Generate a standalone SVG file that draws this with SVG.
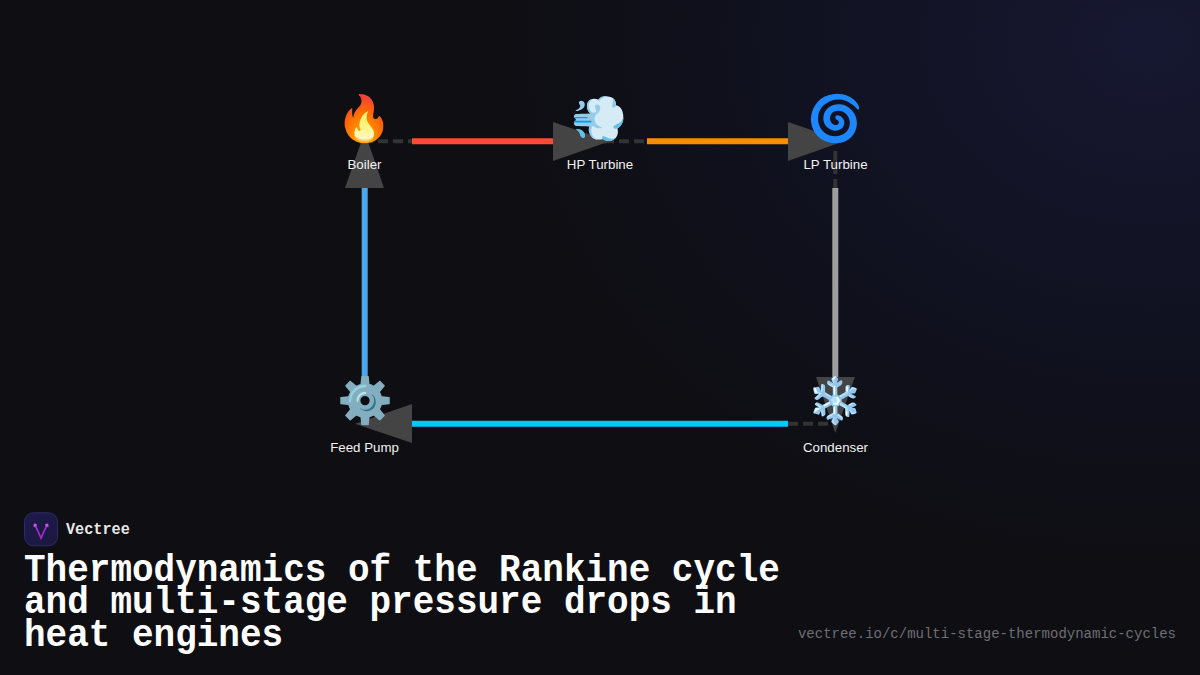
<svg xmlns="http://www.w3.org/2000/svg" width="1200" height="675" viewBox="0 0 1200 675">
<defs>
<radialGradient id="glow" gradientUnits="userSpaceOnUse" cx="0" cy="0" r="1" gradientTransform="translate(1150 40) scale(640 520)">
<stop offset="0" stop-color="#161831"/><stop offset="0.5" stop-color="#111222"/><stop offset="1" stop-color="#0e0e13"/>
</radialGradient>
<linearGradient id="logo" x1="0" y1="0" x2="1" y2="1"><stop offset="0" stop-color="#1e1b4b"/><stop offset="1" stop-color="#1a1740"/></linearGradient>
</defs>
<style>
.dash{fill:none;stroke:#333;stroke-width:4;stroke-dasharray:10 5}
.solid{fill:none;stroke:#333;stroke-width:4}
.edge{fill:none;stroke-width:6}
.head{fill:#444}
.emoji{font-family:"Noto Color Emoji","Noto Sans",sans-serif;font-size:45px;text-anchor:middle}
.label{font-family:"Liberation Sans",Arial,sans-serif;font-size:13.300px;fill:#f2f2f2;text-anchor:middle}
.mono{font-family:"Liberation Mono","Courier New",monospace}
.title{font-size:36px;font-weight:700;fill:#fff}
</style>
<rect width="1200" height="675" fill="#0e0e13"/>
<rect width="1200" height="675" fill="url(#glow)"/>
<g id="connectors">
<path class="dash" d="M363 141.300H412"/>
<path class="dash" d="M589 141.300H647"/>
<path class="solid" d="M835.300 151V174M835.300 179V188"/>
<path class="dash" d="M788 423.800H835"/>
<path class="edge" stroke="#ff4b33" d="M412 141.300H553"/>
<path class="edge" stroke="#ff8c00" d="M647 141.300H788"/>
<path class="edge" stroke="#9e9e9e" d="M835.300 188V377"/>
<path class="edge" stroke="#00c8ff" d="M788 423.800H412"/>
<path class="edge" stroke="#4aa8ec" d="M364.700 377V188"/>
<polygon class="head" points="553,122 553,161 610,141.300"/>
<polygon class="head" points="788,122 788,161 844,141.300"/>
<polygon class="head" points="816,377 855,377 835.300,433"/>
<polygon class="head" points="412,404 412,443 355,423.800"/>
<polygon class="head" points="345,188 384,188 364.700,132"/>
</g>
<g id="boiler"><text class="emoji" x="364.500" y="133.500">🔥</text><text class="label" x="364.500" y="169">Boiler</text></g>
<g id="hp-turbine"><text class="emoji" x="599.500" y="133.500">💨</text><text class="label" x="600" y="169">HP Turbine</text></g>
<g id="lp-turbine"><text class="emoji" x="835" y="133.500">🌀</text><text class="label" x="835.500" y="169">LP Turbine</text></g>
<g id="condenser"><text class="emoji" x="835" y="416">❄️</text><text class="label" x="835.500" y="452">Condenser</text></g>
<g id="feed-pump"><text class="emoji" x="365" y="416">⚙️</text><text class="label" x="364.500" y="452">Feed Pump</text></g>
<g id="brand">
<rect x="24.500" y="512.800" width="33" height="33" rx="9" fill="url(#logo)" stroke="#2e2a6b"/>
<path d="M36 527L41 538L46 527M36 527L33.500 526M36 527L36 524M46 527L48.500 526M46 527L46 524" fill="none" stroke="#9a30c0" stroke-width="1.800"/>
<circle cx="35" cy="525" r="1.500" fill="#c060e0"/><circle cx="47" cy="525" r="1.500" fill="#c060e0"/>
<text class="mono" font-size="15.200" font-weight="700" fill="#e8e8e8" transform="translate(66 534) scale(1 1.100)">Vectree</text>
</g>
<g id="title" class="mono">
<text class="title mono" transform="translate(24 581) scale(1 1.080)">Thermodynamics of the Rankine cycle</text>
<text class="title mono" transform="translate(24 613) scale(1 1.080)">and multi-stage pressure drops in</text>
<text class="title mono" transform="translate(24 646) scale(1 1.080)">heat engines</text>
</g>
<text class="mono" x="1176" y="637.500" font-size="14" fill="#6f6f76" text-anchor="end">vectree.io/c/multi-stage-thermodynamic-cycles</text>
</svg>
